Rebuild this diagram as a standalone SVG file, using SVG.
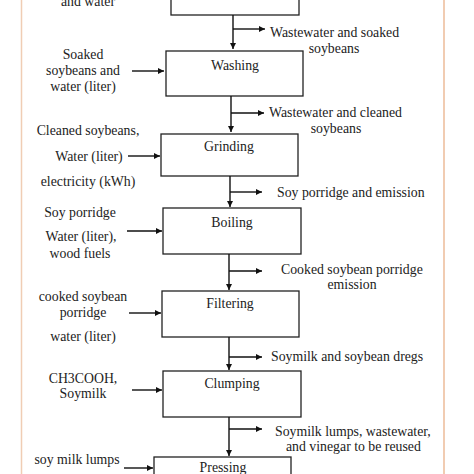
<svg xmlns="http://www.w3.org/2000/svg" width="474" height="474" viewBox="0 0 474 474">
<defs>
<marker id="ah" viewBox="0 0 10 10" refX="10" refY="5" markerWidth="6" markerHeight="6" markerUnits="userSpaceOnUse" orient="auto"><path d="M0,0 L10,5 L0,10 z" fill="#111"/></marker>
</defs>
<style>
.box{fill:#fff;stroke:#222;stroke-width:1.3}
text{font-family:"Liberation Serif","Times New Roman",serif;font-size:13.8px;fill:#222}
.c{text-anchor:middle}
.ar{stroke:#111;stroke-width:1.4;fill:none;marker-end:url(#ah)}
</style>
<rect width="474" height="474" fill="#fff"/>
<line x1="21.5" y1="0" x2="21.5" y2="474" stroke="#f0cdb4" stroke-width="1.5"/>
<line x1="444" y1="0" x2="444" y2="474" stroke="#ecbb98" stroke-width="1.5"/>

<g id="soaking">
<rect class="box" x="171" y="-20" width="128" height="35"/>
<text class="c" x="88" y="6">and water</text>
</g>
<g id="washing">
<rect class="box" x="166" y="51" width="137" height="45"/>
<text class="c" x="235" y="70">Washing</text>
<text class="c" x="83" y="59">Soaked</text>
<text class="c" x="83" y="75">soybeans and</text>
<text class="c" x="83" y="91">water (liter)</text>
</g>
<g id="grinding">
<rect class="box" x="161" y="134" width="137" height="42"/>
<text class="c" x="229" y="151">Grinding</text>
<text class="c" x="88" y="135">Cleaned soybeans,</text>
<text class="c" x="89" y="161">Water (liter)</text>
<text class="c" x="88" y="186">electricity (kWh)</text>
</g>
<g id="boiling">
<rect class="box" x="163" y="208" width="138" height="46"/>
<text class="c" x="232" y="227">Boiling</text>
<text class="c" x="80" y="217">Soy porridge</text>
<text class="c" x="81" y="241">Water (liter),</text>
<text class="c" x="80" y="258">wood fuels</text>
</g>
<g id="filtering">
<rect class="box" x="162" y="291" width="137" height="46"/>
<text class="c" x="230" y="308">Filtering</text>
<text class="c" x="83" y="301">cooked soybean</text>
<text class="c" x="83" y="317">porridge</text>
<text class="c" x="83" y="341">water (liter)</text>
</g>
<g id="clumping">
<rect class="box" x="163" y="371" width="138" height="46"/>
<text class="c" x="232" y="388">Clumping</text>
<text class="c" x="83" y="383">CH3COOH,</text>
<text class="c" x="83" y="398">Soymilk</text>
</g>
<g id="pressing">
<rect class="box" x="154" y="457" width="137" height="40"/>
<text class="c" x="223" y="472">Pressing</text>
<text class="c" x="77" y="464">soy milk lumps</text>
</g>
<g id="outputs">
<text x="270" y="37">Wastewater and soaked</text>
<text class="c" x="334" y="53">soybeans</text>
<text x="269" y="117">Wastewater and cleaned</text>
<text class="c" x="336" y="133">soybeans</text>
<text x="277" y="197">Soy porridge and emission</text>
<text x="281" y="274">Cooked soybean porridge</text>
<text class="c" x="352" y="289">emission</text>
<text x="271" y="361">Soymilk and soybean dregs</text>
<text x="275" y="436">Soymilk lumps, wastewater,</text>
<text x="286" y="451">and vinegar to be reused</text>
</g>
<g id="connectors">
<line class="ar" x1="233" y1="15" x2="233" y2="49"/>
<line class="ar" x1="233" y1="29" x2="265" y2="29"/>
<line class="ar" x1="132" y1="71" x2="164" y2="71"/>
<line class="ar" x1="231" y1="96" x2="231" y2="132"/>
<line class="ar" x1="231" y1="113" x2="264" y2="113"/>
<line class="ar" x1="128" y1="156" x2="160" y2="156"/>
<line class="ar" x1="230" y1="176" x2="230" y2="207"/>
<line class="ar" x1="230" y1="192" x2="262" y2="192"/>
<line class="ar" x1="127" y1="231" x2="162" y2="231"/>
<line class="ar" x1="229" y1="254" x2="229" y2="290"/>
<line class="ar" x1="229" y1="271" x2="262" y2="271"/>
<line class="ar" x1="129" y1="313" x2="161" y2="313"/>
<line class="ar" x1="229" y1="337" x2="229" y2="370"/>
<line class="ar" x1="229" y1="357" x2="262" y2="357"/>
<line class="ar" x1="132" y1="390" x2="162" y2="390"/>
<line class="ar" x1="229" y1="417" x2="229" y2="456"/>
<line class="ar" x1="229" y1="429" x2="262" y2="429"/>
<line class="ar" x1="124" y1="468" x2="153" y2="468"/>
</g>
</svg>
